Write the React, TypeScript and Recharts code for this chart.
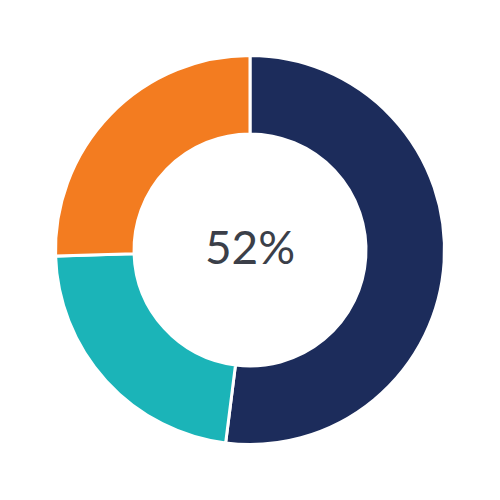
import { Pie, PieChart, Cell } from 'recharts';

const segmentNames = ['Primary', 'Secondary', 'Other'];
const segmentValues = [52, 22.5, 25.5];
const segmentColors = ['#1c2c5b', '#1bb4b8', '#f37c20'];
const centerLabel = '52%';

const data = segmentNames.map((name, i) => ({ name, value: segmentValues[i] }));

export default function App() {
  return (
    <div style={{ position: 'absolute', left: 0, top: 0, width: 500, height: 500, background: '#fff' }}>
      <PieChart width={500} height={500} margin={{ top: 0, right: 0, bottom: 0, left: 0 }}>
        <Pie
          data={data}
          dataKey="value"
          cx={250}
          cy={250}
          innerRadius={116}
          outerRadius={194.5}
          startAngle={90}
          endAngle={-270}
          stroke="#ffffff"
          strokeWidth={3}
          isAnimationActive={false}
        >
          {data.map((d, i) => (
            <Cell key={d.name} fill={segmentColors[i]} />
          ))}
        </Pie>
        <text
          x={250}
          y={246}
          textAnchor="middle"
          dominantBaseline="central"
          fontFamily="Lato, sans-serif"
          fontSize={46}
          fill="#3b3f49"
        >
          {centerLabel}
        </text>
      </PieChart>
    </div>
  );
}
